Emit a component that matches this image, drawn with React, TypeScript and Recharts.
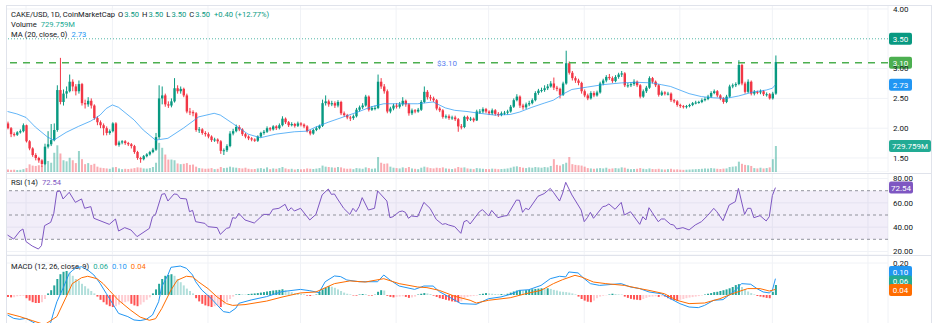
import React from 'react';
import {
    ComposedChart, Bar, Line, XAxis, YAxis, CartesianGrid, ReferenceLine, ReferenceArea, Cell,
} from 'recharts';

// daily candles, index 0 = first visible day (open of day 0 below, then open = previous close)
const firstOpen = 2.08;
const closes = [
    2.00, 1.90, 1.89, 1.93, 1.95, 2.05, 1.78, 1.66, 1.55, 1.50,
    1.46, 1.40, 1.69, 1.73, 1.80, 1.97, 2.64, 2.44, 2.58, 2.62,
    2.78, 2.70, 2.62, 2.74, 2.42, 2.40, 2.46, 2.38, 2.17, 2.10,
    2.05, 2.00, 1.92, 1.95, 2.08, 1.72, 1.76, 1.78, 1.75, 1.73,
    1.70, 1.60, 1.50, 1.48, 1.53, 1.56, 1.60, 1.64, 1.85, 2.50,
    2.55, 2.40, 2.38, 2.45, 2.67, 2.62, 2.66, 2.55, 2.28, 2.27,
    2.25, 1.97, 1.98, 1.92, 1.90, 1.86, 1.80, 1.81, 1.78, 1.62,
    1.63, 1.70, 1.91, 1.95, 2.02, 1.98, 1.90, 1.86, 1.83, 1.81,
    1.79, 1.86, 1.92, 1.94, 2.00, 1.98, 2.03, 2.00, 2.05, 2.16,
    2.10, 2.05, 2.07, 2.04, 2.08, 2.06, 2.03, 1.95, 1.91, 1.97,
    2.00, 2.04, 2.42, 2.45, 2.40, 2.42, 2.38, 2.44, 2.25, 2.22,
    2.18, 2.17, 2.20, 2.31, 2.35, 2.38, 2.53, 2.31, 2.34, 2.34,
    2.78, 2.70, 2.62, 2.28, 2.33, 2.38, 2.36, 2.40, 2.46, 2.40,
    2.25, 2.30, 2.28, 2.31, 2.44, 2.61, 2.52, 2.50, 2.47, 2.33,
    2.30, 2.19, 2.20, 2.17, 2.18, 2.15, 2.03, 2.02, 2.19, 2.15,
    2.16, 2.13, 2.28, 2.28, 2.32, 2.28, 2.25, 2.30, 2.24, 2.22,
    2.25, 2.26, 2.28, 2.36, 2.47, 2.53, 2.38, 2.35, 2.40, 2.42,
    2.47, 2.59, 2.63, 2.64, 2.67, 2.70, 2.75, 2.68, 2.66, 2.56,
    2.75, 3.09, 2.93, 2.84, 2.80, 2.76, 2.62, 2.55, 2.50, 2.59,
    2.55, 2.60, 2.75, 2.80, 2.86, 2.84, 2.79, 2.86, 2.90, 2.92,
    2.72, 2.72, 2.74, 2.78, 2.72, 2.53, 2.62, 2.68, 2.84, 2.78,
    2.72, 2.56, 2.60, 2.58, 2.58, 2.47, 2.45, 2.39, 2.37, 2.36,
    2.37, 2.39, 2.42, 2.43, 2.44, 2.47, 2.49, 2.53, 2.59, 2.62,
    2.55, 2.50, 2.44, 2.53, 2.70, 2.72, 2.74, 3.06, 2.75, 2.61,
    2.78, 2.58, 2.61, 2.60, 2.62, 2.57, 2.57, 2.50, 2.58, 3.11,
];
const highs = [
    2.11, 2.02, 1.93, 1.95, 1.98, 2.08, 2.06, 1.80, 1.68, 1.58,
    1.52, 1.48, 1.74, 1.95, 2.07, 2.08, 2.72, 3.18, 2.65, 2.70,
    2.90, 2.82, 2.74, 2.80, 2.76, 2.48, 2.52, 2.50, 2.40, 2.20,
    2.13, 2.08, 2.03, 1.98, 2.10, 2.10, 1.79, 1.80, 1.80, 1.77,
    1.75, 1.72, 1.62, 1.52, 1.55, 1.58, 1.62, 1.67, 1.92, 2.72,
    2.70, 2.58, 2.45, 2.50, 2.84, 2.72, 2.70, 2.68, 2.58, 2.34,
    2.30, 2.27, 2.02, 2.00, 1.95, 1.93, 1.88, 1.84, 1.83, 1.80,
    1.66, 1.73, 1.95, 1.99, 2.06, 2.05, 2.00, 1.92, 1.88, 1.85,
    1.83, 1.88, 1.94, 1.97, 2.03, 2.02, 2.05, 2.05, 2.08, 2.20,
    2.18, 2.12, 2.10, 2.09, 2.11, 2.10, 2.08, 2.05, 1.97, 1.99,
    2.03, 2.06, 2.48, 2.55, 2.48, 2.46, 2.45, 2.47, 2.46, 2.28,
    2.24, 2.21, 2.23, 2.34, 2.38, 2.42, 2.56, 2.55, 2.37, 2.38,
    2.90, 2.84, 2.74, 2.65, 2.36, 2.41, 2.42, 2.44, 2.52, 2.48,
    2.42, 2.33, 2.32, 2.34, 2.47, 2.70, 2.64, 2.56, 2.53, 2.49,
    2.36, 2.32, 2.23, 2.23, 2.21, 2.21, 2.17, 2.07, 2.21, 2.21,
    2.19, 2.18, 2.31, 2.32, 2.35, 2.34, 2.30, 2.33, 2.32, 2.27,
    2.28, 2.29, 2.31, 2.39, 2.50, 2.57, 2.55, 2.41, 2.43, 2.46,
    2.50, 2.62, 2.66, 2.68, 2.72, 2.74, 2.79, 2.85, 2.71, 2.68,
    2.78, 3.30, 3.12, 2.96, 2.87, 2.83, 2.78, 2.65, 2.58, 2.62,
    2.62, 2.63, 2.78, 2.83, 2.89, 2.91, 2.87, 2.89, 2.93, 2.96,
    2.94, 2.76, 2.77, 2.82, 2.80, 2.74, 2.65, 2.71, 2.87, 2.86,
    2.80, 2.74, 2.63, 2.62, 2.61, 2.60, 2.49, 2.47, 2.41, 2.39,
    2.39, 2.41, 2.44, 2.46, 2.46, 2.50, 2.52, 2.56, 2.62, 2.65,
    2.64, 2.57, 2.52, 2.56, 2.73, 2.75, 2.77, 3.14, 3.08, 2.78,
    2.82, 2.80, 2.64, 2.63, 2.65, 2.64, 2.60, 2.59, 2.61, 3.22,
];
const lows = [
    1.98, 1.85, 1.86, 1.87, 1.91, 1.93, 1.76, 1.63, 1.52, 1.46,
    1.42, 1.35, 1.38, 1.66, 1.70, 1.78, 1.94, 2.40, 2.38, 2.50,
    2.60, 2.62, 2.55, 2.58, 2.38, 2.33, 2.36, 2.33, 2.14, 2.05,
    2.00, 1.88, 1.88, 1.89, 1.93, 1.70, 1.69, 1.73, 1.72, 1.70,
    1.66, 1.57, 1.47, 1.42, 1.46, 1.51, 1.54, 1.58, 1.62, 1.82,
    2.40, 2.36, 2.34, 2.35, 2.43, 2.58, 2.58, 2.52, 2.25, 2.22,
    2.20, 1.94, 1.92, 1.89, 1.86, 1.83, 1.77, 1.77, 1.74, 1.57,
    1.55, 1.60, 1.68, 1.88, 1.93, 1.95, 1.87, 1.83, 1.80, 1.78,
    1.77, 1.77, 1.84, 1.89, 1.92, 1.95, 1.96, 1.97, 1.98, 2.03,
    2.07, 2.02, 2.03, 2.01, 2.02, 2.03, 2.00, 1.93, 1.88, 1.89,
    1.95, 1.98, 2.02, 2.38, 2.36, 2.37, 2.34, 2.35, 2.22, 2.19,
    2.15, 2.12, 2.14, 2.18, 2.28, 2.32, 2.36, 2.28, 2.29, 2.30,
    2.32, 2.66, 2.58, 2.25, 2.25, 2.30, 2.33, 2.33, 2.37, 2.36,
    2.21, 2.22, 2.25, 2.26, 2.29, 2.42, 2.48, 2.46, 2.44, 2.30,
    2.27, 2.16, 2.16, 2.14, 2.14, 2.12, 1.94, 1.98, 2.00, 2.12,
    2.12, 2.10, 2.12, 2.24, 2.25, 2.25, 2.22, 2.22, 2.21, 2.19,
    2.20, 2.22, 2.23, 2.26, 2.34, 2.45, 2.34, 2.31, 2.32, 2.37,
    2.40, 2.45, 2.56, 2.60, 2.61, 2.64, 2.68, 2.64, 2.62, 2.50,
    2.54, 2.73, 2.90, 2.80, 2.76, 2.72, 2.58, 2.52, 2.47, 2.48,
    2.52, 2.53, 2.58, 2.72, 2.77, 2.81, 2.76, 2.77, 2.83, 2.86,
    2.69, 2.68, 2.69, 2.71, 2.69, 2.50, 2.51, 2.59, 2.66, 2.75,
    2.69, 2.53, 2.54, 2.55, 2.55, 2.44, 2.42, 2.36, 2.34, 2.33,
    2.33, 2.35, 2.37, 2.40, 2.41, 2.42, 2.45, 2.47, 2.51, 2.57,
    2.52, 2.47, 2.41, 2.42, 2.51, 2.67, 2.69, 2.72, 2.72, 2.58,
    2.59, 2.55, 2.55, 2.57, 2.57, 2.54, 2.53, 2.48, 2.48, 2.56,
];
// volume in millions
const volumes = [
    70, 60, 65, 55, 60, 80, 110, 215, 180, 170,
    190, 175, 400, 310, 260, 540, 750, 520, 330, 300,
    400, 330, 250, 590, 360, 220, 250, 200, 230, 150,
    120, 110, 100, 90, 130, 140, 100, 80, 90, 85,
    95, 110, 130, 120, 100, 95, 110, 140, 260, 820,
    680, 490, 350, 350, 330, 240, 220, 230, 250, 200,
    210, 150, 110, 100, 90, 95, 110, 80, 90, 140,
    110, 120, 150, 130, 120, 110, 100, 120, 90, 80,
    85, 100, 110, 90, 130, 80, 100, 90, 110, 140,
    100, 80, 90, 70, 85, 75, 80, 100, 90, 85,
    95, 110, 180, 150, 140, 130, 120, 140, 130, 100,
    90, 95, 80, 110, 100, 90, 130, 110, 90, 100,
    420, 260, 230, 240, 150, 120, 110, 100, 130, 110,
    140, 100, 90, 80, 120, 150, 130, 110, 100, 120,
    110, 130, 100, 90, 85, 100, 140, 120, 130, 100,
    90, 80, 110, 100, 90, 85, 80, 95, 90, 80,
    85, 90, 100, 120, 150, 160, 140, 120, 110, 130,
    120, 140, 130, 120, 140, 130, 170, 360, 200, 180,
    220, 260, 420, 220, 200, 190, 180, 150, 110, 100,
    90, 100, 110, 100, 120, 90, 100, 110, 100, 130,
    120, 90, 80, 85, 90, 110, 90, 80, 100, 85,
    80, 90, 75, 70, 80, 90, 70, 75, 65, 60,
    65, 70, 75, 80, 85, 90, 100, 95, 110, 100,
    90, 85, 95, 100, 140, 150, 160, 290, 230, 200,
    190, 170, 110, 100, 120, 100, 110, 130, 360, 729.759,
];
// [day index, value] vertices
const maPoints = [
    [0, 2.28], [3, 2.24], [6, 2.18], [9, 2.02], [13, 1.85], [15, 1.80], [19, 1.93], [23, 2.03],
    [27, 2.12], [30, 2.22], [32, 2.33], [34, 2.39], [36, 2.35], [41, 2.14], [44, 1.97], [48, 1.80],
    [52, 1.83], [57, 2.00], [62, 2.19], [67, 2.25], [69, 2.22], [73, 2.08], [78, 1.90], [82, 1.84],
    [87, 1.90], [93, 1.94], [97, 1.95], [100, 2.02], [104, 2.10], [109, 2.19], [114, 2.28], [118, 2.36],
    [122, 2.41], [128, 2.41], [133, 2.41], [138, 2.44], [142, 2.34], [145, 2.30], [149, 2.28], [153, 2.25],
    [158, 2.22], [163, 2.23], [166, 2.27], [170, 2.35], [174, 2.42], [177, 2.47], [180, 2.57], [183, 2.65],
    [188, 2.69], [193, 2.73], [199, 2.76], [204, 2.77], [209, 2.76], [212, 2.73], [215, 2.70], [218, 2.64],
    [221, 2.58], [225, 2.53], [229, 2.51], [233, 2.50], [237, 2.54], [242, 2.61], [246, 2.64], [248, 2.67],
    [249, 2.73],
];
const rsiPoints = [
    [0, 33.5], [2, 30.2], [4, 36.8], [5, 38.5], [6, 28.1], [8, 24.5], [10, 22.0], [11, 24.8], [12, 41.2],
    [14, 44.0], [15, 51.4], [16, 69.2], [17, 69.8], [18, 63.2], [20, 68.7], [22, 60.4], [24, 63.2], [25, 55.5],
    [27, 56.9], [28, 47.3], [33, 42.3], [35, 46.7], [36, 36.8], [38, 39.6], [40, 37.7], [42, 32.2], [46, 39.0],
    [47, 48.6], [48, 50.5], [50, 67.0], [51, 67.6], [52, 61.5], [54, 67.3], [55, 67.0], [56, 63.7], [58, 63.2],
    [59, 52.7], [60, 53.8], [61, 44.5], [64, 43.1], [65, 40.4], [68, 39.6], [69, 34.1], [71, 39.0], [72, 39.6],
    [73, 47.8], [74, 47.3], [75, 51.4], [77, 45.9], [80, 43.4], [83, 50.5], [85, 50.5], [86, 54.7], [88, 55.5],
    [90, 58.8], [91, 53.3], [92, 56.0], [93, 53.3], [95, 55.5], [98, 45.9], [100, 50.5], [102, 66.5], [104, 71.4],
    [105, 67.0], [106, 67.3], [107, 63.2], [109, 55.5], [111, 50.5], [112, 55.5], [113, 52.7], [114, 56.9],
    [115, 64.3], [117, 54.1], [119, 55.5], [120, 69.8], [123, 61.5], [124, 47.8], [125, 48.6], [127, 52.7],
    [128, 53.3], [129, 52.2], [130, 47.3], [131, 49.2], [133, 48.6], [135, 60.4], [137, 55.5], [139, 46.4],
    [141, 42.3], [142, 42.9], [143, 41.8], [145, 40.4], [147, 34.9], [148, 44.5], [149, 45.6], [150, 42.6],
    [153, 52.7], [154, 54.4], [156, 49.2], [157, 53.8], [159, 47.8], [161, 49.2], [162, 49.5], [165, 62.3],
    [166, 62.1], [167, 52.2], [168, 55.5], [169, 54.4], [172, 65.4], [174, 67.6], [176, 71.9], [177, 68.7],
    [179, 61.5], [180, 68.0], [181, 76.9], [183, 66.5], [186, 54.1], [187, 44.5], [188, 47.8], [189, 52.2],
    [190, 47.3], [193, 56.9], [194, 57.4], [195, 59.1], [197, 54.7], [199, 60.4], [200, 50.0], [202, 52.7],
    [205, 42.3], [206, 48.6], [207, 45.9], [208, 56.0], [209, 52.2], [211, 44.5], [212, 46.7], [213, 46.7],
    [215, 42.3], [216, 41.8], [217, 38.5], [219, 39.6], [221, 37.7], [223, 41.8], [225, 44.5], [227, 49.5],
    [229, 55.5], [230, 52.7], [232, 45.3], [234, 58.2], [236, 61.0], [237, 71.9], [239, 50.5], [240, 55.5],
    [241, 55.5], [242, 47.8], [243, 48.6], [244, 49.5], [245, 47.3], [246, 45.1], [247, 48.6], [248, 66.0],
    [249, 72.54],
];
const macdPoints = [
    [0, -0.125], [2, -0.146], [4, -0.152], [6, -0.146], [8, -0.167], [10, -0.19], [12, -0.195], [14, -0.173],
    [15, -0.104], [16, -0.042], [18, 0.042], [20, 0.135], [21, 0.152], [22, 0.167], [24, 0.177], [26, 0.156],
    [28, 0.125], [30, 0.073], [32, 0.010], [34, -0.052], [36, -0.115], [39, -0.135], [41, -0.156], [43, -0.160],
    [45, -0.152], [47, -0.125], [49, -0.042], [50, 0.052], [52, 0.125], [53, 0.173], [56, 0.181], [58, 0.167],
    [60, 0.125], [61, 0.083], [63, 0.031], [66, -0.021], [68, -0.063], [70, -0.104], [72, -0.110], [74, -0.083],
    [75, -0.052], [79, -0.031], [84, -0.010], [89, 0.021], [95, 0.035], [98, 0.027], [101, 0.015], [103, 0.083],
    [106, 0.119], [108, 0.115], [110, 0.094], [114, 0.083], [120, 0.083], [122, 0.125], [124, 0.094], [127, 0.056],
    [132, 0.035], [135, 0.056], [138, 0.056], [140, 0.021], [143, -0.010], [147, -0.054], [152, -0.058],
    [156, -0.023], [160, -0.012], [163, 0.004], [166, 0.029], [169, 0.033], [173, 0.060], [176, 0.102],
    [179, 0.117], [181, 0.113], [182, 0.144], [185, 0.138], [187, 0.102], [189, 0.071], [192, 0.060],
    [199, 0.071], [202, 0.050], [205, 0.040], [208, 0.019], [212, 0.008], [215, -0.023], [218, -0.054],
    [221, -0.075], [224, -0.079], [226, -0.065], [229, -0.033], [232, -0.029], [236, 0.029], [238, 0.071],
    [241, 0.067], [243, 0.040], [245, 0.019], [247, 0.013], [248, 0.029], [249, 0.102],
];
const signalPoints = [
    [0, -0.115], [4, -0.135], [8, -0.160], [12, -0.185], [16, -0.135], [19, -0.013], [21, 0.071], [24, 0.108],
    [26, 0.117], [29, 0.102], [31, 0.071], [33, 0.029], [36, -0.033], [40, -0.096], [43, -0.138], [46, -0.158],
    [48, -0.148], [50, -0.085], [53, 0.031], [55, 0.092], [58, 0.117], [60, 0.113], [62, 0.081], [65, 0.040],
    [68, -0.013], [71, -0.054], [73, -0.065], [77, -0.060], [84, -0.038], [89, -0.013], [95, 0.013], [100, 0.019],
    [106, 0.071], [111, 0.088], [116, 0.081], [122, 0.102], [127, 0.071], [133, 0.050], [136, 0.046], [140, 0.029],
    [145, -0.008], [150, -0.033], [152, -0.050], [156, -0.033], [163, -0.017], [168, 0.008], [173, 0.029],
    [177, 0.071], [180, 0.096], [184, 0.123], [186, 0.113], [190, 0.081], [194, 0.071], [200, 0.060], [205, 0.040],
    [208, 0.029], [213, 0.008], [217, -0.033], [221, -0.054], [226, -0.050], [231, -0.023], [235, 0.008],
    [240, 0.040], [244, 0.040], [247, 0.025], [249, 0.035],
];
const histogram = [
    -0.012, -0.015, -0.014, -0.008, -0.006, -0.005, -0.02, -0.035, -0.045, -0.05,
    -0.05, -0.045, -0.025, 0.01, 0.03, 0.06, 0.10, 0.13, 0.145, 0.15,
    0.14, 0.12, 0.10, 0.09, 0.07, 0.055, 0.04, 0.025, 0.01, -0.01,
    -0.03, -0.045, -0.06, -0.07, -0.075, -0.07, -0.06, -0.05, -0.045, -0.04,
    -0.055, -0.065, -0.07, -0.06, -0.045, -0.03, -0.015, 0.01, 0.035, 0.07,
    0.10, 0.12, 0.125, 0.13, 0.12, 0.10, 0.08, 0.06, 0.04, 0.025,
    0.01, -0.02, -0.04, -0.055, -0.065, -0.07, -0.075, -0.07, -0.065, -0.075,
    -0.06, -0.045, -0.025, -0.01, 0.003, 0.005, 0.004, 0.003, 0.006, 0.008,
    0.01, 0.012, 0.015, 0.018, 0.022, 0.025, 0.028, 0.03, 0.032, 0.036,
    0.03, 0.022, 0.018, 0.012, 0.01, 0.008, 0.004, -0.004, -0.006, -0.003,
    0.003, 0.02, 0.035, 0.045, 0.055, 0.052, 0.045, 0.035, 0.025, 0.015,
    0.008, 0.004, -0.003, -0.004, 0.003, 0.006, 0.005, -0.003, -0.004, 0.002,
    0.02, 0.03, 0.028, -0.005, -0.012, -0.015, -0.012, -0.01, -0.008, -0.012,
    -0.018, -0.015, -0.01, 0.003, 0.008, 0.012, 0.01, 0.006, -0.004, -0.012,
    -0.02, -0.025, -0.03, -0.035, -0.04, -0.042, -0.045, -0.04, -0.02, -0.012,
    -0.008, -0.006, -0.004, 0.004, 0.008, 0.012, 0.01, 0.008, 0.006, 0.005,
    0.006, 0.005, 0.008, 0.015, 0.022, 0.028, 0.03, 0.028, 0.03, 0.033,
    0.036, 0.038, 0.04, 0.042, 0.04, 0.042, 0.038, 0.032, 0.028, 0.022,
    0.02, 0.018, 0.015, 0.01, 0.004, -0.01, -0.025, -0.035, -0.042, -0.045,
    -0.035, -0.02, -0.01, -0.005, -0.002, 0.003, 0.008, 0.006, 0.004, 0.003,
    -0.01, -0.018, -0.024, -0.028, -0.03, -0.032, -0.025, -0.018, -0.012, -0.01,
    -0.008, -0.012, -0.008, -0.01, -0.02, -0.028, -0.033, -0.036, -0.03, -0.025,
    -0.02, -0.016, -0.013, -0.01, -0.007, -0.003, 0.003, 0.008, 0.012, 0.018,
    0.02, 0.025, 0.03, 0.035, 0.042, 0.05, 0.062, 0.068, 0.05, 0.035,
    0.022, 0.012, 0.004, -0.006, -0.01, -0.014, -0.018, -0.02, 0.02, 0.0625,
];

// month starts (Feb 1 … Nov 1) as day indices, for the vertical grid
const monthTicks = [6, 34, 65, 95, 126, 156, 187, 218, 248, 279];
const priceTicks = [1.5, 2, 2.5, 3, 4];
const rsiTicks = [20, 40, 60, 80];
const macdTicks = [-0.2, 0.2];

const lastPrice = 3.5;
const alertPrice = 3.1;
const lastMa = 2.73;
const lastVolume = 729.759;
const lastRsi = 72.54;
const lastMacd = 0.10;
const lastHist = 0.06;
const lastSignal = 0.04;

const UP = '#089981';
const DOWN = '#f23645';
const GRID = '#f0f2f6';
const BORDER = '#e0e3eb';
const TEXT = '#131722';
const FONT = 'Roboto, sans-serif';
const W = 925;
const AXIS_W = 43;
const X_DOMAIN = [-0.5, 285.5];
const M = { top: 0, right: 0, bottom: 0, left: 0 };

const priceRows: any[] = closes.map((c, i) => {
    const o = i === 0 ? firstOpen : closes[i - 1];
    return { i, o, c, h: highs[i], l: lows[i], hl: [lows[i], highs[i]], v: volumes[i] };
});
maPoints.forEach(([i, v]) => { priceRows[i].ma = v; });

const rsiRows = rsiPoints.map(([i, v]) => ({ i, rsi: v }));

const macdRows: any[] = histogram.map((h, i) => ({ i, hist: h }));
macdPoints.forEach(([i, v]) => { macdRows[i].macd = v; });
signalPoints.forEach(([i, v]) => { macdRows[i].signal = v; });

const histColor = (i: number) => {
    const h = histogram[i];
    const prev = i > 0 ? histogram[i - 1] : 0;
    if (h >= 0) return prev < h ? '#26a69a' : '#b2dfdb';
    return prev < h ? '#ffcdd2' : '#ff5252';
};

const fmt = (v: number) => v.toFixed(2).replace('-', '\u2212');
const tickStyle = { fontSize: 8, fill: TEXT, fontFamily: FONT };

function Candle(props: any) {
    const { x, y, width, height, payload } = props;
    const { o, c, h, l } = payload;
    const color = c >= o ? UP : DOWN;
    const top = Math.min(y, y + height);
    const hgt = Math.abs(height);
    const k = h === l ? 0 : hgt / (h - l);
    const yOf = (v: number) => top + (h - v) * k;
    const cx = x + width / 2;
    const bTop = yOf(Math.max(o, c));
    const bBot = yOf(Math.min(o, c));
    return (
        <g>
            <line x1={cx} x2={cx} y1={top} y2={top + hgt} stroke={color} strokeWidth={1} />
            <rect x={cx - 1.2} y={bTop} width={2.4} height={Math.max(bBot - bTop, 1)} fill={color} />
        </g>
    );
}

// price-scale tag drawn in the axis strip, to the right of a reference line
const tag = (text: string, bg: string, w = 23, dy = 0) => (props: any) => {
    const vb = props.viewBox;
    if (!vb) return null;
    const x = vb.x + vb.width + 1;
    const y = vb.y + dy;
    return (
        <g>
            <rect x={x} y={y - 6} width={w} height={12} rx={2} fill={bg} />
            <text x={x + w / 2} y={y + 3} textAnchor="middle" fill="#fff" fontSize={8} fontFamily={FONT}>{text}</text>
        </g>
    );
};

const alertLabel = (props: any) => {
    const vb = props.viewBox;
    if (!vb) return null;
    const cx = vb.x + vb.width / 2;
    return (
        <g>
            <rect x={cx - 13} y={vb.y - 6} width={26} height={12} fill="#fff" />
            <text x={cx} y={vb.y + 3} textAnchor="middle" fill="#5b7ff0" fontSize={8} fontFamily={FONT}>$3.10</text>
            {tag('3.10', '#4caf50')(props)}
        </g>
    );
};

const legend = { position: 'absolute' as const, left: 11, fontSize: 7.6, lineHeight: '10px', color: TEXT, whiteSpace: 'nowrap' as const, fontFamily: FONT };
const val = (color: string, text: string, ml = 1) => <span style={{ color, marginLeft: ml }}>{text}</span>;
const hline = (top: number) => (
    <div style={{ position: 'absolute', left: 6, top, width: 926, height: 1, background: BORDER }} />
);

function PricePane() {
    return (
        <ComposedChart width={W} height={167} data={priceRows} margin={M}>
            <CartesianGrid stroke={GRID} xAxisId="p" yAxisId="p" />
            <XAxis xAxisId="p" dataKey="i" type="number" domain={X_DOMAIN} ticks={monthTicks} hide allowDataOverflow />
            <XAxis xAxisId="v" dataKey="i" type="number" domain={X_DOMAIN} hide allowDataOverflow />
            <YAxis yAxisId="p" orientation="right" width={AXIS_W} domain={[1.265, 4.067]} ticks={priceTicks}
                allowDataOverflow interval={0} tickFormatter={fmt} tick={tickStyle} tickLine={false} axisLine={false}
                tickSize={0} tickMargin={5} />
            <YAxis yAxisId="vol" hide domain={[0, 4690]} allowDataOverflow />
            <Bar xAxisId="v" yAxisId="vol" dataKey="v" barSize={2} isAnimationActive={false}>
                {priceRows.map((r) => (
                    <Cell key={r.i} fill={r.c >= r.o ? 'rgba(8,153,129,0.42)' : 'rgba(242,54,69,0.42)'} />
                ))}
            </Bar>
            <ReferenceLine xAxisId="p" yAxisId="p" y={lastPrice} stroke={UP} strokeOpacity={0.7}
                strokeDasharray="1 2" label={tag('3.50', UP)} />
            <ReferenceLine xAxisId="p" yAxisId="p" y={alertPrice} stroke="#4caf50" strokeWidth={1.5}
                strokeDasharray="7 6" label={alertLabel} />
            <Bar xAxisId="p" yAxisId="p" dataKey="hl" barSize={2} shape={(p: any) => <Candle {...p} />}
                isAnimationActive={false} />
            <Line xAxisId="p" yAxisId="p" dataKey="ma" stroke="#2196f3" strokeOpacity={0.7} strokeWidth={1}
                dot={false} connectNulls isAnimationActive={false} />
            <ReferenceLine xAxisId="p" yAxisId="p" y={lastMa} stroke="none" label={tag('2.73', '#2196f3')} />
            <ReferenceLine xAxisId="p" yAxisId="vol" y={lastVolume} stroke="none"
                label={tag('729.759M', '#22ab94', 42)} />
        </ComposedChart>
    );
}

function RsiPane() {
    return (
        <ComposedChart width={W} height={82} data={rsiRows} margin={M}>
            <CartesianGrid stroke={GRID} />
            <XAxis dataKey="i" type="number" domain={X_DOMAIN} ticks={monthTicks} hide allowDataOverflow />
            <YAxis orientation="right" width={AXIS_W} domain={[17.08, 84.57]} ticks={rsiTicks} allowDataOverflow
                interval={0} tickFormatter={fmt} tick={tickStyle} tickLine={false} axisLine={false} tickSize={0}
                tickMargin={5} />
            <ReferenceArea y1={30} y2={70} fill="#7e57c2" fillOpacity={0.1} stroke="none" />
            <ReferenceLine y={70} stroke="#787b86" strokeOpacity={0.8} strokeDasharray="3 3" />
            <ReferenceLine y={50} stroke="#787b86" strokeOpacity={0.8} strokeDasharray="3 3" />
            <ReferenceLine y={30} stroke="#787b86" strokeOpacity={0.8} strokeDasharray="3 3" />
            <Line dataKey="rsi" stroke="#7e57c2" strokeWidth={1} dot={false} isAnimationActive={false} />
            <ReferenceLine y={lastRsi} stroke="none" label={tag('72.54', '#7e57c2', 24)} />
        </ComposedChart>
    );
}

function MacdPane() {
    return (
        <ComposedChart width={W} height={100} data={macdRows} margin={M}>
            <CartesianGrid stroke={GRID} />
            <XAxis dataKey="i" type="number" domain={X_DOMAIN} ticks={monthTicks} hide allowDataOverflow />
            <YAxis orientation="right" width={AXIS_W} domain={[-0.375, 0.25]} ticks={macdTicks} allowDataOverflow
                interval={0} tickFormatter={fmt} tick={tickStyle} tickLine={false} axisLine={false} tickSize={0}
                tickMargin={5} />
            <Bar dataKey="hist" barSize={2} isAnimationActive={false}>
                {macdRows.map((r) => <Cell key={r.i} fill={histColor(r.i)} />)}
            </Bar>
            <Line dataKey="macd" stroke="#2196f3" strokeWidth={1} dot={false} connectNulls isAnimationActive={false} />
            <Line dataKey="signal" stroke="#ff6d00" strokeWidth={1} dot={false} connectNulls isAnimationActive={false} />
            <ReferenceLine y={lastMacd} stroke="none" label={tag('0.10', '#2196f3', 23, -7)} />
            <ReferenceLine y={lastHist} stroke="none" label={tag('0.06', '#22ab94', 23, -4)} />
            <ReferenceLine y={lastSignal} stroke="none" label={tag('0.04', '#ff6d00', 23, 1.5)} />
        </ComposedChart>
    );
}

export default function App() {
    return (
        <div style={{ position: 'absolute', left: 0, top: 0, width: 937, height: 323, overflow: 'hidden', background: '#fff' }}>
            <div style={{ position: 'absolute', left: 6, top: 5 }}><PricePane /></div>
            <div style={{ position: 'absolute', left: 6, top: 173 }}><RsiPane /></div>
            <div style={{ position: 'absolute', left: 6, top: 255 }}><MacdPane /></div>

            {hline(5)}
            {hline(173)}
            {hline(255)}
            <div style={{ position: 'absolute', left: 6, top: 5, width: 1, height: 318, background: BORDER }} />
            <div style={{ position: 'absolute', left: 931, top: 5, width: 1, height: 318, background: BORDER }} />

            <div style={{ ...legend, top: 10 }}>
                CAKE/USD, 1D, CoinMarketCap
                <span style={{ marginLeft: 3 }}>O</span>{val(UP, '3.50')}
                <span style={{ marginLeft: 3 }}>H</span>{val(UP, '3.50')}
                <span style={{ marginLeft: 3 }}>L</span>{val(UP, '3.50')}
                <span style={{ marginLeft: 3 }}>C</span>{val(UP, '3.50')}
                {val(UP, '+0.40 (+12.77%)', 4)}
            </div>
            <div style={{ ...legend, top: 20 }}>Volume{val('#22ab94', '729.759M', 4)}</div>
            <div style={{ ...legend, top: 29.5 }}>MA (20, close, 0){val('#2196f3', '2.73', 4)}</div>
            <div style={{ ...legend, top: 178 }}>RSI (14){val('#7e57c2', '72.54', 4)}</div>
            <div style={{ ...legend, top: 262 }}>
                MACD (12, 26, close, 9){val('#22ab94', '0.06', 4)}{val('#2196f3', '0.10', 4)}{val('#ff6d00', '0.04', 4)}
            </div>
        </div>
    );
}
